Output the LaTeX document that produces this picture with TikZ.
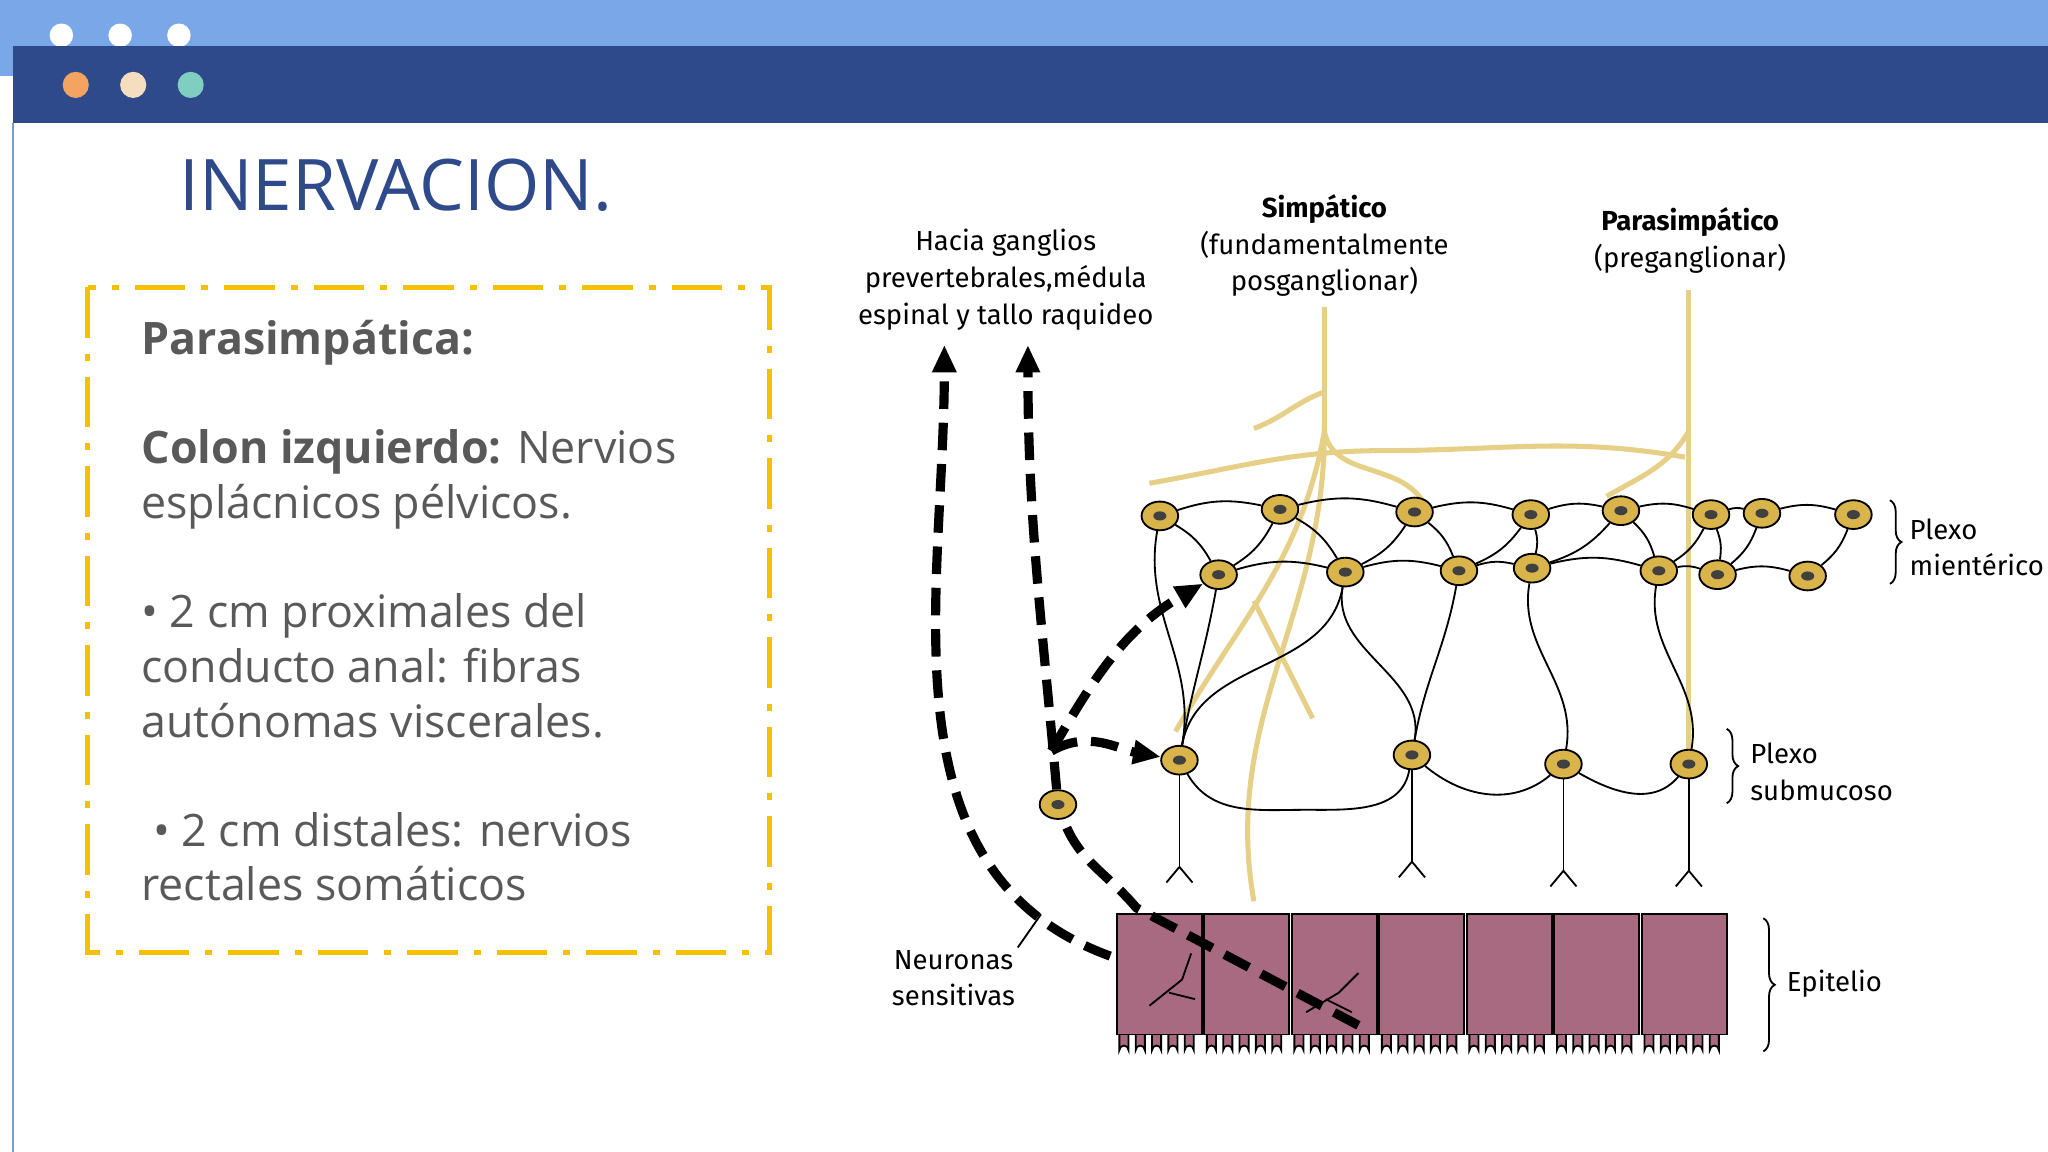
\documentclass[tikz,border=0pt]{standalone}
\usepackage{fontspec}
\setmainfont{Open Sans}
\newfontfamily\labfont{Fira Sans}
\usetikzlibrary{shapes.geometric,arrows.meta,decorations.pathreplacing}
\definecolor{navy}{HTML}{2E4A8A}
\definecolor{skyband}{HTML}{7AA7E8}
\definecolor{boxgold}{HTML}{F5C000}
\definecolor{textgray}{HTML}{595959}
\definecolor{fiber}{HTML}{E6CF86}
\definecolor{cellpink}{HTML}{A86A80}
\definecolor{soma}{HTML}{D9B44A}
\definecolor{dotorange}{HTML}{F4A460}
\definecolor{dotbeige}{HTML}{F5DEC0}
\definecolor{dotteal}{HTML}{7FCFC0}
\begin{document}
\begin{tikzpicture}[x=0.02cm,y=-0.02cm,
    neuron/.style={ellipse, draw=black, thick, fill=soma, minimum width=0.56cm, minimum height=0.44cm, inner sep=0pt,
        path picture={\fill[black!75] (path picture bounding box.center) ellipse (0.1cm and 0.07cm);}},
    lab/.style={font=\labfont\fontsize{12}{16}\selectfont, align=center, inner sep=1pt},
    net/.style={thick, black},
    yfib/.style={line width=2.2pt, fiber},
    sens/.style={line width=4pt, black, dash pattern=on 12pt off 6pt, -{Triangle[length=12pt,width=10pt]}},
    brace/.style={thick, decorate, decoration={brace, amplitude=5pt}}]
    \useasboundingbox (0,0) rectangle (1568,882);
    % frame
    \fill[skyband] (0,0) rectangle (1568,35);
    \fill[skyband] (0,35) rectangle (10,58);
    \foreach \x in {47,92,137} \fill[white] (\x,27) circle (9);
    \fill[navy] (10,35) rectangle (1568,94);
    \fill[dotorange] (58,65) circle (10);
    \fill[dotbeige] (102,65) circle (10);
    \fill[dotteal] (146,65) circle (10);
    \draw[skyband!70!gray, thick] (10,94) -- (10,882);
    % title and box
    \node[anchor=west, text=navy, font=\fontsize{31}{38}\selectfont, inner sep=0pt] (title) at (137,142) {INERVACION.};
    \draw[boxgold, line width=2.2pt, dash pattern=on 22pt off 7pt on 3pt off 7pt] (67,220) rectangle (589,729);
    \node[anchor=north west, text=textgray, align=left, inner sep=0pt,
          font=\fontsize{19.5}{23.8}\selectfont] (body) at (108,245) {%
        \textbf{Parasimpática:}\\ \mbox{}\\
        \textbf{Colon izquierdo:} Nervios\\ esplácnicos pélvicos.\\ \mbox{}\\
        • 2 cm proximales del\\ conducto anal: fibras\\ autónomas viscerales.\\ \mbox{}\\
        \ • 2 cm distales: nervios\\ rectales somáticos};
    % yellow fibers
    \draw[yfib] (1014,235) -- (1014,330) to[out=-90,in=100] (960,690);
    \draw[yfib] (1014,300) to[out=200,in=20] (960,328);
    \draw[yfib] (1014,330) to[out=-80,in=120] (1090,385);
    \draw[yfib] (1014,330) to[out=-100,in=60] (900,560);
    \draw[yfib] (960,460) -- (1005,550);
    \draw[yfib] (1293,222) -- (1293,575);
    \draw[yfib] (1293,330) to[out=-120,in=30] (1230,380);
    \draw[yfib] (880,370) to[out=10,in=180] (1060,345) to[out=0,in=170] (1290,350);
    % epithelium
    \foreach \i in {0,...,6} {
        \foreach \k in {0,...,4}
            \filldraw[cellpink, draw=black, thick] (857+67*\i+12.5*\k,790) -- (857+67*\i+12.5*\k,804) arc(180:360:3.5) -- (864+67*\i+12.5*\k,790);
        \fill[cellpink, draw=black, thick] (855+67*\i,700) rectangle (920+67*\i,792);
    }
    \draw[thick] (880,770) -- (905,750) -- (912,730) (895,760) -- (915,765);
    \draw[thick] (1000,775) -- (1025,760) -- (1040,745) (1015,765) -- (1035,775);
    % myenteric plexus
    \foreach \n/\x/\y in {m1/888/395,m2/980/390,m3/1083/392,m4/1172/394,m5/1241/391,m6/1310/394,m7/1349/393,m8/1419/394,
                          l1/933/440,l2/1030/438,l3/1117/437,l4/1173/435,l5/1270/437,l6/1315/440,l7/1384/441,
                          s1/903/582,s2/1081/578,s3/1197/585,s4/1293/585}
        \node[neuron] (\n) at (\x,\y) {};
    \node[neuron] (sn) at (810,616) {};
    \foreach \a/\b in {m1/m2,m2/m3,m3/m4,m4/m5,m5/m6,m6/m7,m7/m8,l1/l2,l2/l3,l3/l4,l4/l5,l5/l6,l6/l7,
                       m1/l1,m2/l2,m3/l3,m4/l4,m5/l5,m6/l6,m8/l7,m2/l1,m3/l2,m4/l3,m5/l4,m6/l5,m7/l6}
        \draw[net] (\a) to[bend left=15] (\b);
    \foreach \a/\b in {l1/s1,l2/s2,l3/s2,l4/s3,l5/s4,l2/s1,m1/s1}
        \draw[net] (\a) to[out=-100,in=80] (\b);
    \draw[net] (s1) to[out=-60,in=180] (1000,620) to[out=0,in=-100] (s2);
    \draw[net] (s2) to[out=-40,in=-140] (s3);
    \draw[net] (s3) to[out=-30,in=-130] (s4);
    \foreach \n in {s1,s2,s3,s4} {
        \draw[net] (\n.south) -- ++(0,70) coordinate (\n t);
        \draw[net] (\n t) -- ++(-10,12) (\n t) -- ++(10,12);
    }
    % sensory paths
    \coordinate (e1) at (850,732);
    \coordinate (e2) at (1040,785);
    \node[lab] (up1) at (723,262) {};
    \node[lab] (up2) at (787,262) {};
    \draw[sens] (e1) to[out=160,in=-90] (up1);
    \draw[sens, -] (e2) -- (870,695) to[out=130,in=-70] (sn);
    \draw[sens] (sn) to[out=95,in=-90] (up2);
    \draw[sens] (805,575) to[out=60,in=-150] (l1);
    \draw[sens] (805,575) to[out=30,in=170] (s1);
    % labels
    \node[lab] (hacia) at (770,214) {Hacia ganglios\\prevertebrales,médula\\espinal y tallo raquideo};
    \node[lab] (simp) at (1014,188) {\textbf{Simpático}\\(fundamentalmente\\posganglionar)};
    \node[lab] (para) at (1294,184) {\textbf{Parasimpático}\\(preganglionar)};
    \node[lab, anchor=west, align=left] (mient) at (1460,419) {Plexo\\mientérico};
    \node[lab, anchor=west, align=left] (subm) at (1338,591) {Plexo\\submucoso};
    \node[lab, anchor=west] (epit) at (1366,753) {Epitelio};
    \node[lab] (neur) at (730,749) {Neuronas\\sensitivas};
    \draw[brace] (1447,383) -- (1447,447);
    \draw[brace] (1322,558) -- (1322,615);
    \draw[brace] (1350,703) -- (1350,805);
    \draw[thick] (neur.north east) -- (797,700);
\end{tikzpicture}
\end{document}
